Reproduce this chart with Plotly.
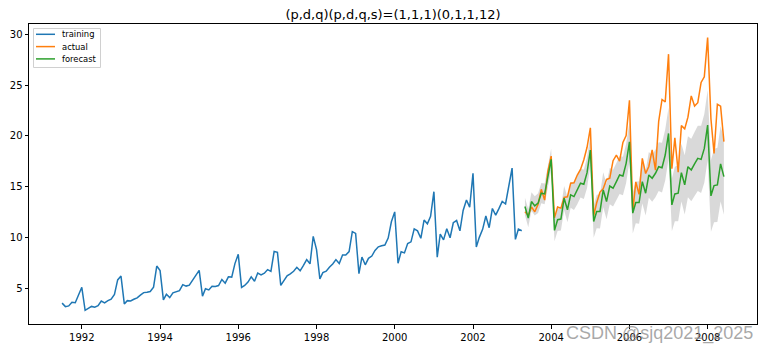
import pandas as pd
import plotly.graph_objects as go

# Monthly series Jul 1991 .. Jun 2008
train_vals = [
    3.526591, 3.180891, 3.252221, 3.611003, 3.565869, 4.306371,
    5.088335, 2.814520, 2.985811, 3.204780, 3.127578, 3.270523, 3.737851, 3.558776, 3.777202, 3.924490, 4.386531, 5.810549,
    6.192068, 3.450857, 3.772307, 3.734303, 3.905399, 4.049687, 4.315566, 4.562185, 4.608662, 4.667851, 5.093841, 7.179962,
    6.731473, 3.841278, 4.394076, 4.075341, 4.540645, 4.645615, 4.752607, 5.350605, 5.204455, 5.301651, 5.773742, 6.204593,
    6.749484, 4.216067, 4.949349, 4.823045, 5.194754, 5.170787, 5.256742, 5.855277, 5.490729, 6.115293, 6.088473, 7.416598,
    8.329452, 5.069796, 5.262557, 5.597126, 6.110296, 5.689161, 6.486849, 6.300569, 6.467476, 6.828629, 6.649078, 8.606937,
    8.524471, 5.277918, 5.714303, 6.214529, 6.411929, 6.667716, 7.050831, 6.704919, 7.250988, 7.819733, 7.398101, 10.096233,
    8.798513, 5.918261, 6.534493, 6.675442, 7.064215, 7.383014, 7.813652, 7.431242, 8.275117, 8.260564, 8.596426, 10.558939,
    10.391220, 6.421535, 8.062619, 7.297739, 7.936916, 8.165323, 8.717420, 9.070964, 9.177113, 9.251887, 9.933136, 11.532974,
    12.511462, 7.457199, 8.591191, 8.474000, 9.386803, 9.560399, 10.834295, 10.643751, 9.908162, 11.710041, 11.340151, 12.079132,
    14.497581, 8.049275, 10.312891, 9.753358, 10.850382, 9.961719, 11.443601, 11.659239, 10.647060, 12.652134, 13.674466, 12.965735,
    16.300269, 9.053485, 10.002449, 10.788750, 12.106705, 10.954101, 12.844566, 12.196500, 12.854748, 13.542004, 13.287640, 15.134918,
    16.828350, 9.800215, 10.816994, 10.654223,
]

actual_vals = [
    12.512323, 12.161210, 12.998046, 12.517276, 13.268658, 14.733622, 13.669382, 16.503966,
    18.003768, 11.938030, 12.997900, 12.882645, 13.943447, 13.989472, 15.339097, 15.370764, 16.142005, 16.685754, 17.636728, 18.869325,
    20.778723, 12.154552, 13.402392, 14.459239, 14.795102, 15.705248, 15.829550, 17.554701, 18.100864, 17.496668, 19.347265, 20.031291,
    23.486694, 12.536987, 15.467018, 14.233539, 17.783058, 16.291602, 16.980282, 18.612189, 16.623343, 21.430241, 23.575517, 23.334206,
    28.038383, 16.763869, 19.792754, 16.427305, 21.000742, 20.681002, 21.834890, 23.930204, 22.930357, 23.263340, 25.250030, 25.806090,
    29.665356, 21.654285, 18.264945, 23.107677, 22.912510, 19.431740,
]

forecast_vals = [
    13.04, 11.90, 13.53, 13.10, 13.37, 14.35, 14.28, 15.82,
    17.69, 10.69, 11.74, 11.80, 13.86, 12.72, 14.19, 14.02, 14.61, 15.33, 15.23, 16.37,
    18.60, 11.57, 12.55, 12.55, 14.68, 13.53, 15.05, 14.84, 15.49, 16.15, 16.05, 17.29,
    19.41, 12.39, 13.43, 13.43, 15.49, 14.35, 16.15, 15.82, 16.31, 16.96, 16.86, 18.11,
    20.23, 13.20, 14.28, 14.35, 16.37, 15.17, 16.96, 16.64, 17.23, 17.78, 17.68, 18.76,
    21.05, 14.09, 15.10, 15.17, 17.23, 15.98,
]

lower_vals = [
    12.19, 11.00, 12.61, 12.15, 12.40, 13.35, 13.26, 14.78,
    16.63, 9.61, 10.64, 10.67, 12.66, 11.48, 12.91, 12.70, 13.25, 13.93, 13.78, 14.87,
    17.05, 9.97, 10.91, 10.87, 12.96, 11.78, 13.27, 13.03, 13.65, 14.28, 14.15, 15.36,
    17.45, 10.39, 11.38, 11.33, 13.34, 12.15, 13.90, 13.52, 13.96, 14.56, 14.41, 15.61,
    17.68, 10.60, 11.60, 11.59, 13.53, 12.25, 13.96, 13.56, 14.08, 14.56, 14.38, 15.38,
    17.59, 10.55, 11.50, 11.52, 13.53, 12.23,
]

upper_vals = [
    13.89, 12.80, 14.45, 14.05, 14.34, 15.35, 15.30, 16.86,
    18.75, 11.77, 12.84, 12.93, 15.06, 13.96, 15.47, 15.34, 15.97, 16.73, 16.68, 17.87,
    20.15, 13.17, 14.19, 14.23, 16.40, 15.28, 16.83, 16.65, 17.33, 18.02, 17.95, 19.22,
    21.37, 14.39, 15.48, 15.53, 17.64, 16.55, 18.40, 18.12, 18.66, 19.36, 19.31, 20.61,
    22.78, 15.80, 16.96, 17.11, 19.21, 18.09, 19.96, 19.72, 20.38, 21.00, 20.98, 22.14,
    24.51, 17.63, 18.70, 18.82, 20.93, 19.73,
]

title_text = "(p,d,q)(p,d,q,s)=(1,1,1)(0,1,1,12)"
series_names = ["training", "actual", "forecast"]

dates = pd.date_range("1991-07-01", periods=len(train_vals) + len(actual_vals), freq="MS")
train_dates = dates[:len(train_vals)]
test_dates = dates[len(train_vals):]

C_TRAIN, C_ACT, C_FC = "#1f77b4", "#ff7f0e", "#2ca02c"
colors = [C_TRAIN, C_ACT, C_FC]
FONT = "DejaVu Sans"

# plot area in pixels
L, R, T, B = 29, 757, 24, 324
def px(xp):
    return (xp - L) / (R - L)
def py(yp):
    return 1 - (yp - T) / (B - T)

fig = go.Figure()
fig.add_trace(go.Scatter(x=test_dates, y=lower_vals, mode="lines",
                         line=dict(width=0, color="rgba(0,0,0,0)"),
                         showlegend=False, hoverinfo="skip"))
fig.add_trace(go.Scatter(x=test_dates, y=upper_vals, mode="lines",
                         line=dict(width=0, color="rgba(0,0,0,0)"),
                         fill="tonexty", fillcolor="rgba(0,0,0,0.15)",
                         showlegend=False, hoverinfo="skip"))
fig.add_trace(go.Scatter(x=train_dates, y=train_vals, mode="lines", name=series_names[0],
                         line=dict(color=C_TRAIN, width=1.5), showlegend=False))
fig.add_trace(go.Scatter(x=test_dates, y=actual_vals, mode="lines", name=series_names[1],
                         line=dict(color=C_ACT, width=1.5), showlegend=False))
fig.add_trace(go.Scatter(x=test_dates, y=forecast_vals, mode="lines", name=series_names[2],
                         line=dict(color=C_FC, width=1.5), showlegend=False))

fig.update_layout(
    width=764, height=351,
    margin=dict(l=L, r=764 - R, t=T, b=351 - B),
    paper_bgcolor="white", plot_bgcolor="white",
    font=dict(family=FONT, size=10, color="black"),
    title=dict(text=title_text, x=0.5, xref="paper", xanchor="center",
               y=1 - 14 / 351, yref="container", yanchor="middle",
               font=dict(family=FONT, size=13, color="black")),
    showlegend=False,
)

fig.update_xaxes(
    type="date", range=["1990-08-26", "2009-04-06"],
    tick0="1992-01-01", dtick="M24", tickformat="%Y",
    showgrid=False, zeroline=False,
    showline=True, mirror=True, linecolor="black", linewidth=1,
    ticks="outside", ticklen=3.5, tickwidth=1, tickcolor="black",
    tickfont=dict(family=FONT, size=10, color="black"),
)
fig.update_yaxes(
    range=[1.472, 31.008], tick0=5, dtick=5,
    showgrid=False, zeroline=False,
    showline=True, mirror=True, linecolor="black", linewidth=1,
    ticks="outside", ticklen=3.5, tickwidth=1, tickcolor="black",
    tickfont=dict(family=FONT, size=10, color="black"),
)

# legend box (matplotlib-style) drawn with shapes + text
fig.add_shape(type="rect", xref="paper", yref="paper",
              x0=px(33.5), x1=px(100.5), y0=py(67.5), y1=py(28.5),
              line=dict(color="#d0d0d0", width=1), fillcolor="rgba(255,255,255,0.8)",
              layer="above")
row_y = [34.3, 46.6, 58.9]
for name, col, ry in zip(series_names, colors, row_y):
    fig.add_shape(type="line", xref="paper", yref="paper",
                  x0=px(36), x1=px(55), y0=py(ry), y1=py(ry),
                  line=dict(color=col, width=1.5), layer="above")
    fig.add_annotation(text=name, xref="paper", yref="paper",
                       x=px(59.5), y=py(ry), xanchor="left", yanchor="middle",
                       showarrow=False,
                       font=dict(family=FONT, size=8.4, color="black"))

fig.add_annotation(text="CSDN @sjq2021_2025", xref="paper", yref="paper",
                   x=px(564), y=py(333),
                   xanchor="left", yanchor="middle", showarrow=False,
                   font=dict(family="Liberation Sans", size=18, color="rgba(140,140,140,0.75)"))

fig.write_html("out.html")
